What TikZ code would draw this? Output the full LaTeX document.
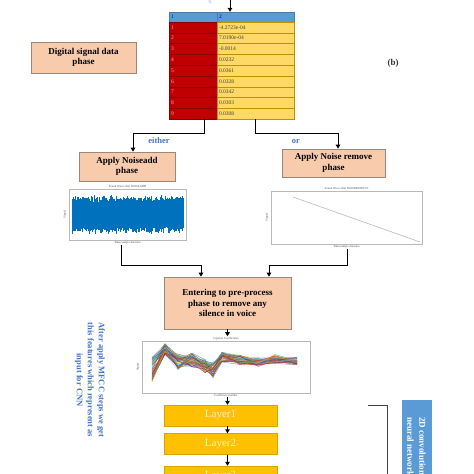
\documentclass[tikz,border=0pt]{standalone}
\usepackage{fontspec}
\setmainfont{Liberation Serif}
\usetikzlibrary{arrows.meta, positioning, calc}
\definecolor{peach}{HTML}{F8CBAD}
\definecolor{peachline}{HTML}{9C8878}
\definecolor{tblue}{HTML}{5B9BD5}
\definecolor{tred}{HTML}{C00000}
\definecolor{tyellow}{HTML}{FFD966}
\definecolor{tgold}{HTML}{BF9000}
\definecolor{lorange}{HTML}{FFC000}
\definecolor{laytext}{HTML}{FFF2CC}
\definecolor{noteblue}{HTML}{4472C4}
\definecolor{m1}{HTML}{0072BD}
\definecolor{m2}{HTML}{D95319}
\definecolor{m3}{HTML}{EDB120}
\definecolor{m4}{HTML}{7E2F8E}
\definecolor{m5}{HTML}{77AC30}
\definecolor{m6}{HTML}{4DBEEE}
\definecolor{m7}{HTML}{A2142F}
\tikzset{
    phase/.style={draw=peachline, fill=peach, line width=0.6pt, align=center,
        font=\bfseries\fontsize{9}{10.5}\selectfont, inner sep=0pt},
    layer/.style={fill=lorange, draw=lorange!85!black, line width=0.4pt,
        minimum width=113pt, minimum height=21pt, text=laytext,
        font=\fontsize{11}{12}\selectfont},
    arr/.style={line width=1pt, -{Triangle[length=4pt, width=4.5pt]}},
    lnk/.style={line width=1pt},
    note/.style={text=noteblue, font=\bfseries\fontsize{8.5}{11}\selectfont},
    axbox/.style={draw=gray!55, line width=0.3pt, inner sep=0pt},
    tinytxt/.style={font=\fontsize{3}{3.5}\selectfont, text=gray!60!black, inner sep=0.5pt},
    hcell/.style={fill=tblue, draw=tblue!80!black, line width=0.3pt, text=blue!50!black,
        minimum height=10pt, inner sep=2pt, align=left, font=\fontsize{5.5}{6}\selectfont},
    rcell/.style={fill=tred, draw=tred!70!black, line width=0.3pt, text=red!35!white,
        minimum height=10.78pt, inner sep=2pt, text width=44pt, align=left,
        font=\fontsize{5.5}{6}\selectfont},
    ycell/.style={fill=tyellow, draw=tgold, line width=0.3pt, text=black!75,
        minimum height=10.78pt, inner sep=2pt, text width=73pt, align=left,
        font=\fontsize{5.5}{6}\selectfont},
}

\begin{document}
\begin{tikzpicture}[x=1pt, y=-1pt]
    \useasboundingbox (0,0) rectangle (474,474);
    \clip (0,0) rectangle (474,474);
    \pgfmathsetseed{7}

    % data table
    \node[hcell, text width=44pt] (h1) at (193,17) {1};
    \node[hcell, text width=73pt] (h2) at (255.5,17) {2};
    \foreach \v [count=\i] in {-4.2723e-04, 7.0190e-04, -0.0014, 0.0232, 0.0361,
                              0.0328, 0.0342, 0.0303, 0.0308} {
        \node[rcell] (r\i) at (193,{22+10.78*(\i-0.5)}) {\i};
        \node[ycell] (v\i) at (255.5,{22+10.78*(\i-0.5)}) {\v};
    }
    \node[text=tblue!70, font=\fontsize{6}{7}\selectfont, inner sep=0pt] (six) at (210,2) {6};
    \coordinate (top) at (230,-2);
    \draw[arr] (top) -- (top |- h2.north);

    \node[phase, minimum width=105pt, minimum height=31pt] (digital) at (83.5,57.5)
        {Digital signal data\\phase};
    \node[font=\bfseries\fontsize{9}{10}\selectfont, text=black!80] (tag) at (393,63) {(b)};

    % two branches
    \node[phase, minimum width=96pt, minimum height=29pt] (nadd) at (127,166.5)
        {Apply Noiseadd\\phase};
    \node[phase, minimum width=103pt, minimum height=28pt] (nrem) at (333.5,163)
        {Apply Noise remove\\phase};
    \coordinate (jl) at (133,133);
    \coordinate (jr) at (338,133);
    \draw[arr] ([xshift=11pt]r9.south) |- (jl) -- (jl |- nadd.north);
    \draw[arr] (v9.south) |- (jr) -- (jr |- nrem.north);
    \node[note] (either) at (159,141) {either};
    \node[note] (or) at (296,142) {or};

    % noise add plot
    \node[axbox, minimum width=117pt, minimum height=51pt] (p1) at (127.5,214.5) {};
    \foreach \x in {72,72.5,...,183} {
        \pgfmathsetmacro\ya{200+3*rand-2.5*max(0,rand)}
        \pgfmathsetmacro\yb{229+3*rand+2.5*max(0,rand)}
        \draw[m1, line width=0.55pt] (\x,\ya) -- (\x,\yb);
    }
    \node[tinytxt, above=0.5pt of p1] (p1t) {Sound Wave after NOISEADD};
    \node[tinytxt, below=0.5pt of p1] (p1x) {Time/sample duration};
    \node[tinytxt, rotate=90, left=2pt of p1, anchor=south] (p1y) {Signal};

    % noise remove plot
    \node[axbox, minimum width=151pt, minimum height=53pt] (p2) at (346.5,217.5) {};
    \draw[gray!55, line width=0.6pt] (293,197) -- (420,242);
    \node[tinytxt, above=0.5pt of p2] (p2t) {Sound Wave after NOISEREMOVE};
    \node[tinytxt, below=0.5pt of p2] (p2x) {Time/sample duration};
    \node[tinytxt, rotate=90, left=2pt of p2, anchor=south] (p2y) {Signal};

    % pre-process
    \node[phase, minimum width=127pt, minimum height=52pt] (pre) at (227.5,303)
        {Entering to pre-process\\phase to remove any\\silence in voice};
    \coordinate (jm) at (121,265);
    \coordinate (jn) at (347,265);
    \draw[arr] (p1x.south -| jm) -- (jm) -| ([xshift=-26.5pt]pre.north);
    \draw[arr] (p2x.south -| jn) -- (jn) -| ([xshift=41.5pt]pre.north);

    % mfcc plot
    \node[axbox, minimum width=168pt, minimum height=52pt] (p3) at (226,367) {};
    \foreach \k in {1,...,9} {
    \foreach \c in {m1,m2,m3,m4,m5,m6,m7} {
        \pgfmathsetmacro\ya{370+13*rand}
        \pgfmathsetmacro\yb{349+6*rand}
        \pgfmathsetmacro\yc{362+8*rand}
        \pgfmathsetmacro\yd{360+7*rand}
        \pgfmathsetmacro\ye{366+7*rand}
        \pgfmathsetmacro\yf{370+8*rand}
        \pgfmathsetmacro\yg{357+5*rand}
        \pgfmathsetmacro\yh{360+5*rand}
        \pgfmathsetmacro\yi{362+4.5*rand}
        \pgfmathsetmacro\yj{359+4.5*rand}
        \pgfmathsetmacro\yk{361+4*rand}
        \draw[\c, line width=0.3pt, line join=round, opacity=0.8]
            (152,\ya) -- (165,\yb) -- (178,\yc) -- (192,\yd) -- (205,\ye) -- (213,\yf)
            -- (222,\yg) -- (240,\yh) -- (258,\yi) -- (275,\yj) -- (297,\yk);
    }}
    \node[tinytxt, above=0.5pt of p3] (p3t) {Cepstral Coefficients};
    \node[tinytxt, below=0.5pt of p3] (p3x) {Coefficient number};
    \node[tinytxt, rotate=90, left=2pt of p3, anchor=south] (p3y) {Signal};
    \draw[arr] (pre.south) -- (pre.south |- p3t.north);

    \node[note, rotate=-90, align=center] (mfccnote) at (90,380)
        {After apply MFCC steps we get\\this features which represent as\\input for CNN};

    % cnn layers
    \node[layer] (l1) at (220.5,415.5) {Layer1};
    \node[layer] (l2) at (220.5,444) {Layer2};
    \node[layer] (l3) at (220.5,476.5) {Layer3};
    \draw[arr] (p3x.south -| pre.south) -- (l1.north -| pre.south);
    \draw[arr] (l1.south -| pre.south) -- (l2.north -| pre.south);
    \draw[arr] (l2.south -| pre.south) -- (l3.north -| pre.south);

    \coordinate (b1) at (368,405);
    \coordinate (b2) at (387,405);
    \coordinate (b3) at (387,480);
    \draw[black!75, line width=1pt] (b1) -- (b2) -- (b3);

    \node[fill=tblue, minimum width=30pt, minimum height=90pt, inner sep=0pt] (cnnbox)
        at (417,445) {};
    \node[rotate=-90, anchor=west, align=left, text=white,
          font=\bfseries\fontsize{9}{12}\selectfont, inner sep=0pt] (cnn)
        at (416.5,417) {2D convolutional\\neural network};
\end{tikzpicture}
\end{document}
